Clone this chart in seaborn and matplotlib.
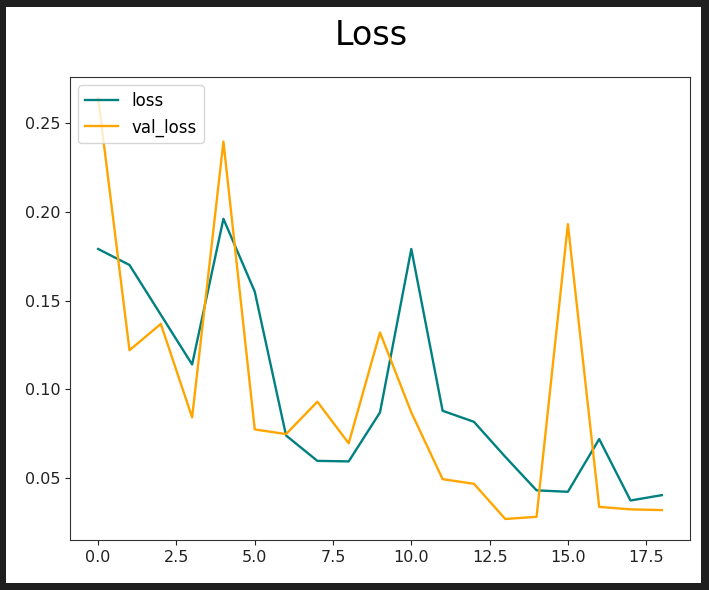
import matplotlib
matplotlib.use("Agg")
import matplotlib.pyplot as plt
from matplotlib.patches import Rectangle
import pandas as pd
import seaborn as sns

# --- datos ---
epoch = list(range(19))
loss = [0.179, 0.170, 0.142, 0.114, 0.196, 0.155, 0.074, 0.0597, 0.0594, 0.087,
        0.179, 0.0879, 0.0817, 0.062, 0.0431, 0.0423, 0.072, 0.0374, 0.0404]
val_loss = [0.264, 0.122, 0.1368, 0.0842, 0.2395, 0.0774, 0.0748, 0.093, 0.0696, 0.132,
            0.087, 0.0494, 0.0468, 0.027, 0.0282, 0.193, 0.0338, 0.0324, 0.032]

hist = pd.DataFrame({"epoch": epoch, "loss": loss, "val_loss": val_loss})

fig = plt.figure(figsize=(7.09, 5.90), dpi=100)
fig.patch.set_facecolor("#1f1f1f")
# zona blanca dentro del marco oscuro
fig.patches.append(Rectangle((6/709, 7/590), 695/709, 576/590, transform=fig.transFigure,
                             facecolor="white", edgecolor="none", zorder=-1))

ax = fig.add_axes([70/709, 50/590, 620/709, 463/590])
sns.lineplot(data=hist, x="epoch", y="loss", color="teal", label="loss", lw=1.7, ax=ax)
sns.lineplot(data=hist, x="epoch", y="val_loss", color="orange", label="val_loss", lw=1.7, ax=ax)

ax.set_xlabel("")
ax.set_ylabel("")
for s in ax.spines.values():
    s.set_edgecolor("#333333")
ax.tick_params(labelsize=11.5, colors="#222222")
ax.legend(loc="upper left", fontsize=12)
fig.text(371/709, 1 - 45/590, "Loss", fontsize=24, ha="center", va="baseline")

fig.savefig("out.png", dpi=100, facecolor=fig.get_facecolor())
